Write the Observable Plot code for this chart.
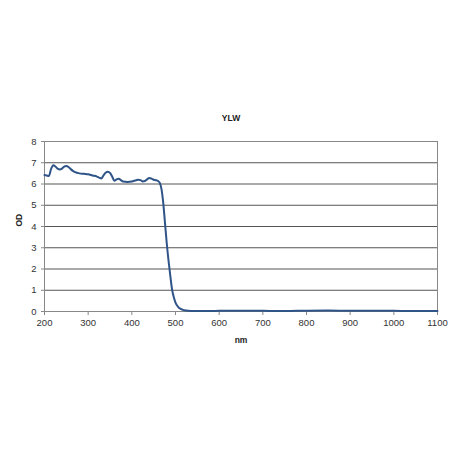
<!DOCTYPE html>
<html>
<head>
<meta charset="utf-8">
<script src="https://cdn.jsdelivr.net/npm/d3@7"></script>
<script src="https://cdn.jsdelivr.net/npm/@observablehq/plot@0.6"></script>
<style>
  html, body { margin: 0; padding: 0; background: #fff; }
  svg { display: block; }
</style>
</head>
<body>
<div id="chart"></div>
<script>
const title = "YLW";
const xLabel = "nm";
const yLabel = "OD";
const xTicks = [200, 300, 400, 500, 600, 700, 800, 900, 1000, 1100];
const yTicks = [0, 1, 2, 3, 4, 5, 6, 7, 8];

const wavelength = [200,205,210,215,220,225,230,235,240,245,250,255,260,265,270,280,290,300,310,320,325,330,335,340,345,350,355,360,365,370,375,380,390,400,410,415,420,425,430,435,440,445,450,455,460,464,468,472,476,480,484,488,492,496,500,506,512,520,530,540,550,575,600,650,700,750,800,850,900,950,1000,1050,1100];
const od = [6.42,6.40,6.38,6.70,6.88,6.82,6.72,6.68,6.72,6.82,6.85,6.80,6.70,6.62,6.56,6.50,6.48,6.46,6.40,6.35,6.30,6.26,6.40,6.53,6.58,6.52,6.35,6.15,6.22,6.25,6.18,6.12,6.10,6.12,6.18,6.20,6.18,6.12,6.14,6.22,6.28,6.25,6.20,6.18,6.14,6.05,5.75,5.10,4.15,3.20,2.40,1.70,1.05,0.68,0.42,0.22,0.12,0.06,0.03,0.02,0.02,0.02,0.03,0.04,0.03,0.02,0.04,0.05,0.03,0.04,0.03,0.02,0.02];

const data = wavelength.map((w, i) => ({w, v: od[i]}));

const chart = Plot.plot({
  width: 458,
  height: 458,
  marginTop: 141,
  marginRight: 21,
  marginBottom: 147,
  marginLeft: 44,
  style: {fontFamily: "'Liberation Sans', Arial, sans-serif", fontSize: "9.5px", color: "#333", background: "#fff"},
  x: {domain: [200, 1100], ticks: xTicks, label: null},
  y: {domain: [0, 8], ticks: yTicks, label: null},
  marks: [
    Plot.ruleY(yTicks.filter(d => d > 0 && d < 8), {stroke: "#555", strokeWidth: 1}),
    Plot.frame({stroke: "#888", strokeWidth: 1}),
    Plot.axisX({ticks: xTicks, tickFormat: d => String(d), tickSize: 4, tickPadding: 4, stroke: "#888", label: null, fill: "#333"}),
    Plot.axisY({ticks: yTicks, tickFormat: d => String(d), tickSize: 3, tickPadding: 5, stroke: "#888", label: null, fill: "#333"}),
    Plot.line(data, {x: "w", y: "v", stroke: "#2f5488", strokeWidth: 2, curve: "monotone-x"}),
    Plot.text([title], {frameAnchor: "top", dx: -10, dy: -27, text: d => d, fontWeight: "bold", fontSize: 8.5, fill: "#222"}),
    Plot.text([xLabel], {frameAnchor: "bottom", dy: 31, text: d => d, fontWeight: "bold", fontSize: 8.5, fill: "#222"}),
    Plot.text([yLabel], {frameAnchor: "left", dx: -25, rotate: -90, text: d => d, fontWeight: "bold", fontSize: 8.5, fill: "#222"})
  ]
});
document.getElementById("chart").appendChild(chart);
</script>
</body>
</html>
